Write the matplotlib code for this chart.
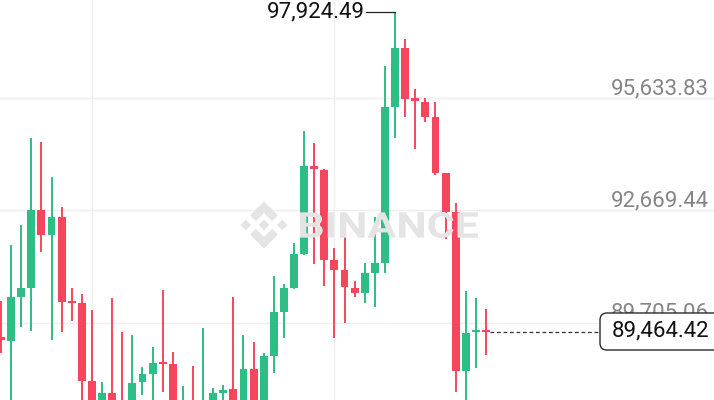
import matplotlib
matplotlib.use("Agg")
import matplotlib.pyplot as plt
import numpy as np
from matplotlib.patches import FancyBboxPatch, Polygon, PathPatch
from matplotlib.textpath import TextPath
from matplotlib.font_manager import FontProperties
from matplotlib.transforms import IdentityTransform, Affine2D, blended_transform_factory

plt.rcParams['font.family'] = ['Roboto', 'DejaVu Sans']

# ---- data ----
opens = [89290, 89229, 90392, 90630, 92675, 92014, 92506, 90260, 90234, 88165,
         87300, 87840, 87250, 87100, 88131, 88350, 88632, 88606, 87000, 87550,
         87100, 87400, 87860, 87946, 87400, 88474, 87550, 88833, 89980, 90614,
         91512, 93853, 93739, 91362, 91097, 90630, 90498, 91010, 91290, 95412,
         96955, 95607, 95543, 95147, 93652, 92622, 88429, 89451, 89525]
highs = [90278, 91750, 92278, 94577, 94471, 93546, 92754, 90614, 90455, 90041,
         88146, 90350, 89467, 89380, 88543, 89055, 90569, 88923, 88033, 88569,
         89557, 87972, 88059, 90392, 89380, 89187, 88896, 90947, 90727, 91803,
         94778, 94445, 93760, 91671, 92067, 90815, 91274, 92506, 96487, 97924.49,
         97192, 95871, 95634, 95528, 93652, 92860, 90551, 90350, 90067]
lows = [88904, 87600, 89599, 89494, 91565, 89248, 89467, 89758, 87400, 87000,
        87000, 86900, 86600, 86900, 87795, 87600, 87882, 87100, 86800, 86900,
        86900, 87200, 87500, 87100, 87200, 87300, 87300, 88368, 89309, 90596,
        91494, 91256, 90675, 89293, 89689, 90392, 90234, 90128, 91026, 94577,
        95132, 94294, 95015, 93607, 91908, 87882, 87530, 88500, 88852]
closes = [89260, 90376, 90614, 92675, 92014, 92506, 90260, 90225, 88173, 87135,
          87840, 87200, 86950, 88120, 88342, 88632, 88614, 87300, 87500, 87100,
          87600, 87856, 87920, 87300, 88474, 87500, 88825, 89980, 90614, 91512,
          93853, 93766, 91362, 91097, 90640, 90498, 91010, 91290, 95412, 96955,
          95607, 95575, 95147, 93652, 92622, 88429, 89441, 89525, 89464.42]
grid_levels = [95633.83, 92669.44, 89705.06]
grid_labels = ["95,633.83", "92,669.44", "89,705.06"]
high_value = 97924.49
high_label = "97,924.49"
high_index = 39
last_price = 89464.42
last_label = "89,464.42"
vgrid_idx = [9, 33]

GREEN = '#2EBD85'
RED = '#F6465D'

W, H = 714, 400
fig = plt.figure(figsize=(W / 100, H / 100), dpi=100)
ax = fig.add_axes([0, 0, 1, 1])
ax.set_axis_off()

xmin = -0.099
ax.set_xlim(xmin, xmin + W / 10.104)
ax.set_ylim(87662.8, 98230.8)

# grid
for g in grid_levels:
    ax.axhline(g, color='#EFEFEF', lw=1.0, zorder=0)
for v in vgrid_idx:
    ax.axvline(v, color='#EFEFEF', lw=1.0, zorder=0)

# watermark (pixel coordinates, origin bottom-left)
wm_color = '#E4E4E4'
cx, cy, s = 264, H - 225, 24
def poly(pts):
    p = [(cx + x * s, cy + y * s) for x, y in pts]
    fig.patches.append(Polygon(p, closed=True, transform=IdentityTransform(),
                               facecolor=wm_color, edgecolor='none', zorder=0.5))
def diamond(x0, y0, r):
    poly([(x0 - r, y0), (x0, y0 + r), (x0 + r, y0), (x0, y0 - r)])
diamond(0, 0, 0.22)
diamond(-0.76, 0, 0.22)
diamond(0.76, 0, 0.22)
poly([(0, 0.98), (0.58, 0.40), (0.34, 0.16), (0, 0.50), (-0.34, 0.16), (-0.58, 0.40)])
poly([(0, -0.98), (0.58, -0.40), (0.34, -0.16), (0, -0.50), (-0.34, -0.16), (-0.58, -0.40)])

tp = TextPath((0, 0), "BINANCE", size=40,
              prop=FontProperties(family=['Roboto', 'DejaVu Sans'], weight='bold'))
ext = tp.get_extents()
sx = (478 - 300) / ext.width
sy = (238 - 212) / ext.height
tr = Affine2D().translate(-ext.x0, -ext.y0).scale(sx, sy).translate(300, H - 238)
fig.patches.append(PathPatch(tr.transform_path(tp), transform=IdentityTransform(),
                             facecolor=wm_color, edgecolor='none', zorder=0.5))

# candles
x = np.arange(len(opens))
o = np.array(opens); c = np.array(closes); h = np.array(highs); l = np.array(lows)
colors = [GREEN if cc >= oo else RED for oo, cc in zip(o, c)]
ax.vlines(x, l, h, colors=colors, lw=1.4, zorder=2)
bottom = np.minimum(o, c)
height = np.maximum(np.abs(c - o), 55)
ax.bar(x, height, bottom=bottom, width=0.78, color=colors, zorder=3, linewidth=0)

# price labels
tb = blended_transform_factory(ax.transAxes, ax.transData)
for g, lab in zip(grid_levels, grid_labels):
    ax.annotate(lab, xy=(709 / W, g), xycoords=tb, xytext=(0, 4),
                textcoords='offset pixels', ha='right', va='baseline',
                fontsize=16, color='#858585', zorder=4)

# high label
ax.plot([high_index - 2.9, high_index], [high_value, high_value], color='#222222',
        lw=0.9, zorder=4)
ax.text(high_index - 3.0, high_value, high_label, ha='right', va='center',
        fontsize=16, color='#111111', zorder=4)

# last price dashed line and box
ax.plot([48.35, 59.3], [last_price, last_price], color='#333333', lw=0.9,
        dashes=(3, 2.2), zorder=4)
box = FancyBboxPatch((600, H - 350), 130, 37,
                     boxstyle='round,pad=0,rounding_size=7',
                     transform=IdentityTransform(), facecolor='white',
                     edgecolor='#2a2a2a', lw=1.0, zorder=5)
fig.patches.append(box)
fig.text(709 / W, (H - 331) / H, last_label, ha='right', va='center',
         fontsize=16, color='#111111', zorder=6)

fig.savefig('out.png', dpi=100, facecolor='white')
